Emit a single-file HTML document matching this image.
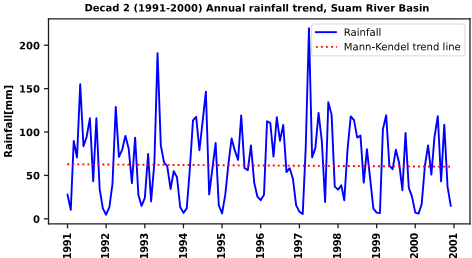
<!DOCTYPE html>
<html><head><meta charset="utf-8"><title>Decad 2 (1991-2000) Annual rainfall trend, Suam River Basin</title>
<style>
html,body{margin:0;padding:0;background:#fff;}
body{width:472px;height:258px;overflow:hidden;}
svg{display:block;}
text{font-family:"DejaVu Sans","Liberation Sans",sans-serif;font-size:10px;fill:#000;}
.b{font-weight:bold;}
.l{font-size:10.1px;}
.xt{font-size:10px;letter-spacing:-0.45px;}
.yt{font-size:10px;}
</style></head><body>
<svg width="472" height="258" viewBox="0 0 472 258">
<rect x="0" y="0" width="472" height="258" fill="#fff"/>
<defs><clipPath id="c"><rect x="48.5" y="18.95" width="421.5" height="204.9"/></clipPath></defs>
<g clip-path="url(#c)"><polyline points="67.50,194.67 70.78,209.92 73.74,141.05 77.02,157.52 80.20,84.30 83.48,146.26 86.65,136.72 89.93,118.18 93.21,181.18 96.38,118.18 99.66,189.14 102.84,208.38 106.12,214.71 109.40,207.08 112.47,183.94 115.75,106.83 118.92,156.83 122.20,149.72 125.37,135.85 128.65,148.42 131.93,183.09 135.11,137.59 138.39,194.86 141.56,205.96 144.84,197.89 148.12,154.05 151.09,201.37 154.37,163.04 157.54,53.10 160.82,145.38 163.99,162.28 167.27,166.27 170.55,188.98 173.73,171.29 177.01,177.27 180.18,207.08 183.46,212.89 186.74,208.38 189.70,170.95 192.98,120.34 196.16,116.88 199.44,150.25 202.61,121.56 205.89,91.66 209.17,194.44 212.35,169.21 215.63,143.05 218.80,205.35 222.08,213.41 225.36,194.17 228.32,164.88 231.60,138.54 234.78,150.41 238.06,159.86 241.23,115.49 244.51,167.91 247.79,170.26 250.96,145.47 254.24,182.82 257.42,196.68 260.70,200.22 263.98,194.84 267.05,121.21 270.33,123.12 273.50,156.66 276.78,117.22 279.95,140.71 283.23,125.02 286.51,172.08 289.69,168.17 292.97,179.00 296.14,205.35 299.42,211.67 302.70,214.11 305.67,149.18 308.95,28.30 312.12,157.35 315.40,147.90 318.57,112.89 321.85,141.49 325.13,202.06 328.31,102.32 331.59,114.62 334.76,186.63 338.04,189.58 341.32,185.33 344.28,200.24 347.56,149.28 350.74,116.36 354.02,120.08 357.19,137.59 360.47,135.51 363.75,182.65 366.93,149.11 370.21,179.18 373.38,208.62 376.66,212.63 379.94,212.98 382.90,129.18 386.18,115.32 389.36,165.57 392.64,169.22 395.81,149.80 399.09,162.54 402.37,190.19 405.54,132.99 408.82,187.84 412.00,196.68 415.28,212.63 418.56,213.67 421.63,204.57 424.91,165.75 428.08,145.47 431.36,174.59 434.53,136.55 437.81,116.27 441.09,181.35 444.27,124.59 447.55,186.63 450.72,205.72" fill="none" stroke="#0000ff" stroke-width="1.9" stroke-linejoin="round" stroke-linecap="square"/>
<line x1="67.35" y1="164.26" x2="450.72" y2="166.68" stroke="#ff0000" stroke-width="1.9" stroke-dasharray="1.9 3.1105"/></g>
<g stroke="#1c1c1c" stroke-width="1.3" fill="none">
<line x1="48.5" y1="18.3" x2="48.5" y2="224.5"/>
<line x1="470.0" y1="18.3" x2="470.0" y2="224.5"/>
<line x1="47.85" y1="18.95" x2="470.65" y2="18.95"/>
<line x1="47.85" y1="223.85" x2="470.65" y2="223.85"/>
<line x1="44.0" y1="218.80" x2="48.5" y2="218.80"/>
<line x1="44.0" y1="175.41" x2="48.5" y2="175.41"/>
<line x1="44.0" y1="132.02" x2="48.5" y2="132.02"/>
<line x1="44.0" y1="88.63" x2="48.5" y2="88.63"/>
<line x1="44.0" y1="45.24" x2="48.5" y2="45.24"/>
<line x1="67.50" y1="223.85" x2="67.50" y2="228.35"/>
<line x1="106.12" y1="223.85" x2="106.12" y2="228.35"/>
<line x1="144.84" y1="223.85" x2="144.84" y2="228.35"/>
<line x1="183.46" y1="223.85" x2="183.46" y2="228.35"/>
<line x1="222.08" y1="223.85" x2="222.08" y2="228.35"/>
<line x1="260.70" y1="223.85" x2="260.70" y2="228.35"/>
<line x1="299.42" y1="223.85" x2="299.42" y2="228.35"/>
<line x1="338.04" y1="223.85" x2="338.04" y2="228.35"/>
<line x1="376.66" y1="223.85" x2="376.66" y2="228.35"/>
<line x1="415.28" y1="223.85" x2="415.28" y2="228.35"/>
<line x1="454.00" y1="223.85" x2="454.00" y2="228.35"/>
</g>
<text class="b yt" x="39.85" y="222.75" text-anchor="end" transform="rotate(0.03 39.85 222.75)">0</text>
<text class="b yt" x="39.85" y="179.36" text-anchor="end" transform="rotate(0.03 39.85 179.36)">50</text>
<text class="b yt" x="39.85" y="135.97" text-anchor="end" transform="rotate(0.03 39.85 135.97)">100</text>
<text class="b yt" x="39.85" y="92.58" text-anchor="end" transform="rotate(0.03 39.85 92.58)">150</text>
<text class="b yt" x="39.85" y="49.19" text-anchor="end" transform="rotate(0.03 39.85 49.19)">200</text>
<text class="b xt" transform="translate(70.55,233.3) rotate(-90)" text-anchor="end">1991</text>
<text class="b xt" transform="translate(109.17,233.3) rotate(-90)" text-anchor="end">1992</text>
<text class="b xt" transform="translate(147.89,233.3) rotate(-90)" text-anchor="end">1993</text>
<text class="b xt" transform="translate(186.51,233.3) rotate(-90)" text-anchor="end">1994</text>
<text class="b xt" transform="translate(225.13,233.3) rotate(-90)" text-anchor="end">1995</text>
<text class="b xt" transform="translate(263.75,233.3) rotate(-90)" text-anchor="end">1996</text>
<text class="b xt" transform="translate(302.47,233.3) rotate(-90)" text-anchor="end">1997</text>
<text class="b xt" transform="translate(341.09,233.3) rotate(-90)" text-anchor="end">1998</text>
<text class="b xt" transform="translate(379.71,233.3) rotate(-90)" text-anchor="end">1999</text>
<text class="b xt" transform="translate(418.33,233.3) rotate(-90)" text-anchor="end">2000</text>
<text class="b xt" transform="translate(457.05,233.3) rotate(-90)" text-anchor="end">2001</text>
<text class="b" transform="translate(11.7,121.3) rotate(-90)" text-anchor="middle">Rainfall[mm]</text>
<text class="b" x="257.0" y="11.45" transform="rotate(0.03 257.0 11.45)" text-anchor="middle" style="font-size:10.02px">Decad 2 (1991-2000) Annual rainfall trend, Suam River Basin</text>
<rect x="311.7" y="24.0" width="153.2" height="31.9" rx="2" ry="2" fill="#fff" fill-opacity="0.8" stroke="#cccccc" stroke-opacity="0.8" stroke-width="1.0"/>
<line x1="315.9" y1="32.15" x2="335.9" y2="32.15" stroke="#0000ff" stroke-width="1.9" stroke-linecap="square"/>
<line x1="315.9" y1="46.9" x2="336.9" y2="46.9" stroke="#ff0000" stroke-width="1.9" stroke-dasharray="1.90 3.13"/>
<text class="l" x="343.8" y="35.7" transform="rotate(0.03 343.8 35.7)">Rainfall</text>
<text class="l" x="343.8" y="50.3" transform="rotate(0.03 343.8 50.3)">Mann-Kendel trend line</text>
</svg></body></html>
